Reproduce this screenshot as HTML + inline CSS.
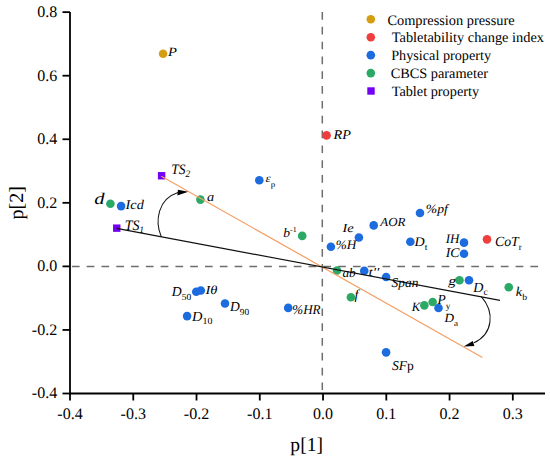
<!DOCTYPE html><html><head><meta charset="utf-8"><style>html,body{margin:0;padding:0;background:#fff;overflow:hidden}svg{display:block}text{font-family:"Liberation Serif",serif;fill:#000;text-rendering:geometricPrecision}</style></head><body>
<svg width="550" height="458" viewBox="0 0 550 458">
<line x1="71.9" y1="266.4" x2="538.6" y2="266.4" stroke="#6e6e6e" stroke-width="1.5" stroke-dasharray="7.7 7.09"/>
<line x1="322.3" y1="12" x2="322.3" y2="390" stroke="#6e6e6e" stroke-width="1.5" stroke-dasharray="7.7 7.12"/>
<path d="M70,12 V393.5 H545" fill="none" stroke="#000" stroke-width="1.8"/>
<line x1="62.5" y1="12.14" x2="70" y2="12.14" stroke="#000" stroke-width="1.8"/>
<text x="57.2" y="16.94" font-size="16" text-anchor="end">0.8</text>
<line x1="62.5" y1="75.70" x2="70" y2="75.70" stroke="#000" stroke-width="1.8"/>
<text x="57.2" y="80.50" font-size="16" text-anchor="end">0.6</text>
<line x1="62.5" y1="139.26" x2="70" y2="139.26" stroke="#000" stroke-width="1.8"/>
<text x="57.2" y="144.06" font-size="16" text-anchor="end">0.4</text>
<line x1="62.5" y1="202.82" x2="70" y2="202.82" stroke="#000" stroke-width="1.8"/>
<text x="57.2" y="207.62" font-size="16" text-anchor="end">0.2</text>
<line x1="62.5" y1="266.38" x2="70" y2="266.38" stroke="#000" stroke-width="1.8"/>
<text x="57.2" y="271.18" font-size="16" text-anchor="end">0.0</text>
<line x1="62.5" y1="329.94" x2="70" y2="329.94" stroke="#000" stroke-width="1.8"/>
<text x="57.2" y="334.74" font-size="16" text-anchor="end">-0.2</text>
<line x1="62.5" y1="393.50" x2="70" y2="393.50" stroke="#000" stroke-width="1.8"/>
<text x="57.2" y="398.30" font-size="16" text-anchor="end">-0.4</text>
<line x1="70.00" y1="393.5" x2="70.00" y2="400.5" stroke="#000" stroke-width="1.8"/>
<text x="70.00" y="418.7" font-size="16" text-anchor="middle">-0.4</text>
<line x1="133.26" y1="393.5" x2="133.26" y2="400.5" stroke="#000" stroke-width="1.8"/>
<text x="133.26" y="418.7" font-size="16" text-anchor="middle">-0.3</text>
<line x1="196.52" y1="393.5" x2="196.52" y2="400.5" stroke="#000" stroke-width="1.8"/>
<text x="196.52" y="418.7" font-size="16" text-anchor="middle">-0.2</text>
<line x1="259.78" y1="393.5" x2="259.78" y2="400.5" stroke="#000" stroke-width="1.8"/>
<text x="259.78" y="418.7" font-size="16" text-anchor="middle">-0.1</text>
<line x1="323.04" y1="393.5" x2="323.04" y2="400.5" stroke="#000" stroke-width="1.8"/>
<text x="323.04" y="418.7" font-size="16" text-anchor="middle">0.0</text>
<line x1="386.30" y1="393.5" x2="386.30" y2="400.5" stroke="#000" stroke-width="1.8"/>
<text x="386.30" y="418.7" font-size="16" text-anchor="middle">0.1</text>
<line x1="449.56" y1="393.5" x2="449.56" y2="400.5" stroke="#000" stroke-width="1.8"/>
<text x="449.56" y="418.7" font-size="16" text-anchor="middle">0.2</text>
<line x1="512.82" y1="393.5" x2="512.82" y2="400.5" stroke="#000" stroke-width="1.8"/>
<text x="512.82" y="418.7" font-size="16" text-anchor="middle">0.3</text>
<text x="306.7" y="450.6" font-size="19.6" text-anchor="middle">p[1]</text>
<text transform="translate(23.3,202.85) rotate(-90)" font-size="20" text-anchor="middle">p[2]</text>
<circle cx="110.4" cy="203.8" r="4.3" fill="#2BAA66"/>
<circle cx="200.4" cy="199.6" r="4.3" fill="#2BAA66"/>
<circle cx="302.2" cy="235.9" r="4.3" fill="#2BAA66"/>
<circle cx="337" cy="270.5" r="4.3" fill="#2BAA66"/>
<circle cx="350.9" cy="297.3" r="4.3" fill="#2BAA66"/>
<circle cx="459.5" cy="280.25" r="4.3" fill="#2BAA66"/>
<circle cx="424.35" cy="305.35" r="4.3" fill="#2BAA66"/>
<circle cx="432.65" cy="302" r="4.3" fill="#2BAA66"/>
<circle cx="508.75" cy="287.25" r="4.3" fill="#2BAA66"/>
<circle cx="259.3" cy="180.2" r="4.3" fill="#1C6BDF"/>
<circle cx="121.1" cy="206.1" r="4.3" fill="#1C6BDF"/>
<circle cx="373.7" cy="225.4" r="4.3" fill="#1C6BDF"/>
<circle cx="420" cy="213" r="4.3" fill="#1C6BDF"/>
<circle cx="358.9" cy="237.5" r="4.3" fill="#1C6BDF"/>
<circle cx="330.9" cy="246.8" r="4.3" fill="#1C6BDF"/>
<circle cx="410.35" cy="241.75" r="4.3" fill="#1C6BDF"/>
<circle cx="464" cy="242.65" r="4.3" fill="#1C6BDF"/>
<circle cx="464" cy="253.75" r="4.3" fill="#1C6BDF"/>
<circle cx="364.25" cy="270.9" r="4.3" fill="#1C6BDF"/>
<circle cx="386.1" cy="277" r="4.3" fill="#1C6BDF"/>
<circle cx="469" cy="280.25" r="4.3" fill="#1C6BDF"/>
<circle cx="438.5" cy="308" r="4.3" fill="#1C6BDF"/>
<circle cx="196.25" cy="291.75" r="4.3" fill="#1C6BDF"/>
<circle cx="200.8" cy="290.5" r="4.3" fill="#1C6BDF"/>
<circle cx="225" cy="303.5" r="4.3" fill="#1C6BDF"/>
<circle cx="187.1" cy="316.1" r="4.3" fill="#1C6BDF"/>
<circle cx="288.2" cy="307.9" r="4.3" fill="#1C6BDF"/>
<circle cx="386.1" cy="352.35" r="4.3" fill="#1C6BDF"/>
<circle cx="326.6" cy="135.4" r="4.3" fill="#EE3E3E"/>
<circle cx="487" cy="239.35" r="4.3" fill="#EE3E3E"/>
<circle cx="163.1" cy="53.8" r="4.3" fill="#D59E12"/>
<rect x="113.05" y="224.45" width="7.4" height="7.4" fill="#7200F2"/>
<rect x="157.90" y="172.05" width="7.4" height="7.4" fill="#7200F2"/>
<line x1="161.4" y1="176.2" x2="482.4" y2="357.5" stroke="#F5A065" stroke-width="1.25"/>
<line x1="116.6" y1="228.35" x2="500" y2="300.4" stroke="#111" stroke-width="1.2"/>
<path d="M161.3,236.8 C154.5,221 158,199 178,192.6" fill="none" stroke="#151515" stroke-width="1.05"/>
<path d="M188.2,191.7 L177.9,189.7 L177.4,195.4 Z" fill="#000"/>
<path d="M481.3,296.6 C495,312 493,334 474,342.8" fill="none" stroke="#151515" stroke-width="1.05"/>
<path d="M463.6,346.4 L472.8,341.1 L474.4,346.0 Z" fill="#000"/>
<text transform="translate(168.03,56.34) scale(1.058,0.9171)" font-size="13.8" font-style="italic">P</text>
<text transform="translate(333.59,138.71) scale(1.0299,0.961)" font-size="13.8" font-style="italic">RP</text>
<text transform="translate(171.27,173.74) scale(0.9714,1.0442)" font-size="13.8" font-style="italic">TS<tspan font-size="9.5" dy="3">2</tspan></text>
<text transform="translate(124.65,230.01) scale(1.0078,1.0481)" font-size="13.8" font-style="italic">TS<tspan font-size="9.5" dy="3">1</tspan></text>
<text transform="translate(94.3,203.66) scale(1.1861,0.9386)" font-size="17.4" font-style="italic">d</text>
<text transform="translate(125.57,208.54) scale(1.0369,0.9614)" font-size="13.8" font-style="italic">Icd</text>
<text transform="translate(206.98,201.17) scale(1.0387,0.9417)" font-size="13.8" font-style="italic">a</text>
<text transform="translate(265.57,182.24) scale(1.007,0.8745)" font-size="13.0" font-style="italic">ε<tspan font-size="9" font-style="normal" dy="5">p</tspan></text>
<text transform="translate(283.24,236.97) scale(0.9846,0.936)" font-size="13.8" font-style="italic">b<tspan font-size="8" font-style="normal" dy="-5">-1</tspan></text>
<text transform="translate(342.52,232.48) scale(1.0503,0.8981)" font-size="13.8" font-style="italic">Ie</text>
<text transform="translate(335.86,248.71) scale(0.9572,0.9331)" font-size="13.8" font-style="italic">%H</text>
<text transform="translate(380.28,225.55) scale(0.9352,0.8914)" font-size="13.8" font-style="italic">AOR</text>
<text transform="translate(425.83,212.73) scale(0.9899,0.9151)" font-size="13.8" font-style="italic">%pf</text>
<text transform="translate(414.52,246.17) scale(1.0167,0.9541)" font-size="13.8" font-style="italic">D<tspan font-size="9.5" font-style="normal" dy="3.5">t</tspan></text>
<text transform="translate(445.74,243.32) scale(0.9402,0.9526)" font-size="13.8" font-style="italic">IH</text>
<text transform="translate(445.75,256.9) scale(0.995,0.9562)" font-size="13.8" font-style="italic">IC</text>
<text transform="translate(494.96,246.11) scale(0.9991,1.0085)" font-size="13.8" font-style="italic">CoT<tspan font-size="9" font-style="normal" dy="3.5">r</tspan></text>
<text transform="translate(342.48,277.46) scale(0.9623,0.9417)" font-size="13.8" font-style="italic">ab</text>
<text transform="translate(368.57,276.03) scale(1.0999,0.8768)" font-size="13.8" font-style="italic">t''</text>
<text transform="translate(391.6,286.58) scale(0.9706,0.975)" font-size="13.8" font-style="italic">Span</text>
<text transform="translate(447.73,284.67999999999995) scale(1.1052,0.9088) skewX(-11)" font-size="13.8">g</text>
<text transform="translate(473.37,291.65) scale(1.0158,1.0085)" font-size="13.8" font-style="italic">D<tspan font-size="9.5" font-style="normal" dy="3.5">c</tspan></text>
<text transform="translate(515.82,296.29) scale(1.0308,0.9632)" font-size="13.8" font-style="italic">k<tspan font-size="9.5" font-style="normal" dy="3.5">b</tspan></text>
<text transform="translate(411.76,311.31) scale(0.9098,0.9158)" font-size="13.8" font-style="italic">K</text>
<text transform="translate(437.56,303.67) scale(0.9738,0.9982)" font-size="13.8" font-style="italic">P<tspan font-size="9.5" font-style="normal" dy="5">y</tspan></text>
<text transform="translate(444.59,321.78) scale(0.9547,0.9043)" font-size="13.8" font-style="italic">D<tspan font-size="9.5" font-style="normal" dy="4.3">a</tspan></text>
<text transform="translate(354.55,299.28) scale(1.025,0.9879)" font-size="13.8" font-style="italic">f</text>
<text transform="translate(292.26,313.65) scale(0.9483,0.9835)" font-size="13.8" font-style="italic">%HR</text>
<text transform="translate(391.96,369.58) scale(0.9824,0.9747)" font-size="13.8" font-style="italic">SF<tspan font-style="normal">p</tspan></text>
<text transform="translate(171.86,296.33) scale(0.9904,0.9863)" font-size="13.8" font-style="italic">D<tspan font-size="9.5" font-style="normal" dy="3.5">50</tspan></text>
<text transform="translate(205.51,293.6) scale(1.0524,0.8941)" font-size="13.8" font-style="italic">Iθ</text>
<text transform="translate(229.93,311.27) scale(0.9816,0.9867)" font-size="13.8" font-style="italic">D<tspan font-size="9.5" font-style="normal" dy="3.5">90</tspan></text>
<text transform="translate(192.1,321.0) scale(1.0431,0.9987)" font-size="13.8" font-style="italic">D<tspan font-size="9.5" font-style="normal" dy="3.5">10</tspan></text>
<circle cx="370.8" cy="19.30" r="4.3" fill="#D59E12"/>
<circle cx="370.8" cy="37.23" r="4.3" fill="#EE3E3E"/>
<circle cx="370.8" cy="55.16" r="4.3" fill="#1C6BDF"/>
<circle cx="370.8" cy="73.09" r="4.3" fill="#2BAA66"/>
<rect x="367.30" y="87.30" width="7.4" height="7.4" fill="#7200F2"/>
<text x="387.38" y="24.60" font-size="14.36">Compression pressure</text>
<text x="391.76" y="42.35" font-size="14.38">Tabletability change index</text>
<text x="391.17" y="60.10" font-size="14.23">Physical property</text>
<text x="390.65" y="77.85" font-size="14.32">CBCS parameter</text>
<text x="391.67" y="95.60" font-size="14.29">Tablet property</text>
</svg></body></html>
